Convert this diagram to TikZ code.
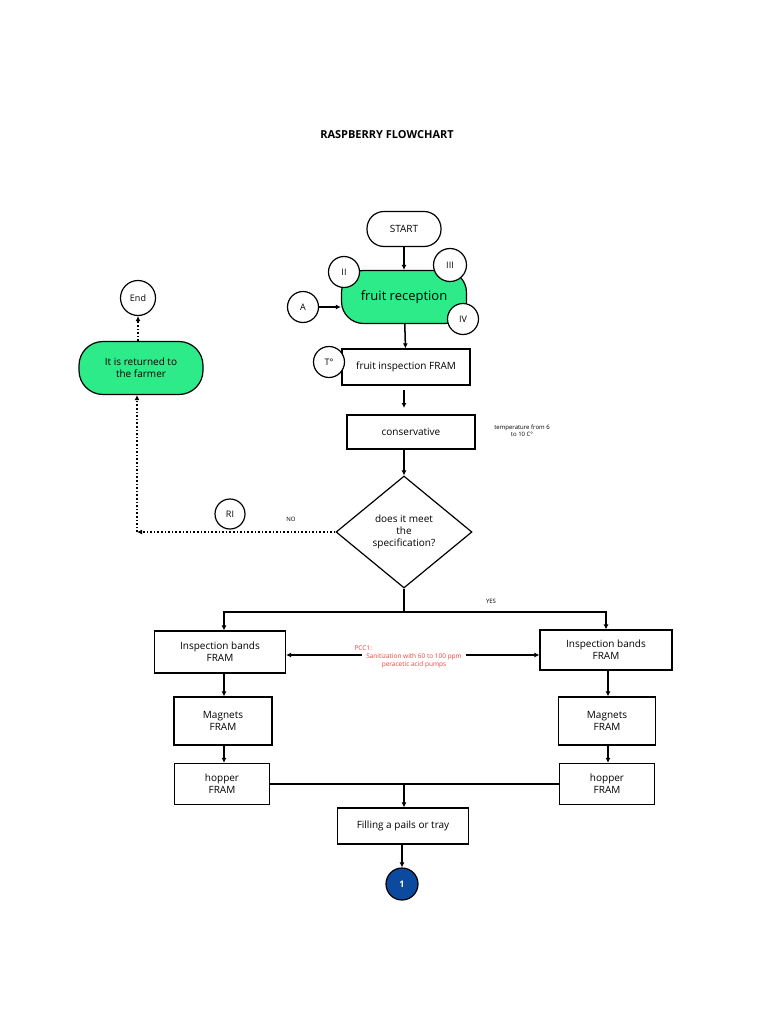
\documentclass[tikz,border=0pt]{standalone}
\usepackage{fontspec}
\setmainfont{Open Sans}
\usetikzlibrary{shapes.geometric,arrows.meta}
\definecolor{mint}{HTML}{2EEB8A}
\definecolor{navy}{HTML}{0B4A9E}
\definecolor{pcc}{HTML}{F04040}
\begin{document}
\begin{tikzpicture}[x=1pt,y=-1pt,
  line width=1.5pt,
  >={Latex[length=5pt,width=5pt]},
  box/.style={draw,line width=1.2pt,minimum width=#1,inner sep=2pt,align=center,font=\fontsize{10}{12}\selectfont},
  box/.default=96pt,
  pill/.style={draw,rounded corners=17pt,line width=1.2pt,align=center,font=\fontsize{10}{12}\selectfont},
  tag/.style={draw,circle,fill=white,line width=1.2pt,minimum size=31pt,inner sep=0pt,font=\fontsize{9}{10}\selectfont},
  dot/.style={dotted,line width=1.6pt}]
\useasboundingbox (0,0) rectangle (768,1024);
\node[font=\bfseries\fontsize{11}{13}\selectfont] (title) at (387,135) {RASPBERRY FLOWCHART};

\node[pill,minimum width=74pt,minimum height=35pt] (start) at (404,229) {START};
\node[pill,fill=mint,minimum width=125pt,minimum height=53pt,rounded corners=22pt,font=\fontsize{13}{15}\selectfont] (rec) at (404,297) {fruit reception};
\node[tag] (ii) at (344,272) {II};
\node[tag,minimum size=33pt] (iii) at (450,265) {III};
\node[tag] (iv) at (463,319) {IV};
\node[tag] (a) at (303,307) {A};
\node[box=128pt,minimum height=36pt] (insp) at (406,367) {fruit inspection FRAM};
\node[tag] (t) at (329,362) {T°};
\node[box=128pt,minimum height=34pt] (cons) at (411,432) {conservative};
\node[align=center,font=\fontsize{6}{7}\selectfont] (temp) at (522,431) {temperature from 6\\to 10 C°};
\node[draw,diamond,aspect=1.2,line width=1.2pt,minimum width=136pt,minimum height=112pt,inner sep=0pt,align=center,font=\fontsize{10}{12}\selectfont] (dec) at (404,532) {does it meet\\the\\specification?};
\node[tag,minimum size=30pt] (ri) at (230,514) {RI};
\node[font=\fontsize{6}{7}\selectfont] (no) at (291,519) {NO};
\node[font=\fontsize{6}{7}\selectfont] (yes) at (491,601) {YES};
\node[pill,fill=mint,minimum width=124pt,minimum height=53pt,rounded corners=24pt] (ret) at (141,368) {It is returned to\\the farmer};
\node[tag,minimum size=35pt] (end) at (138,298) {End};

\node[box=131pt,minimum height=42pt] (bl) at (220,652) {Inspection bands\\FRAM};
\node[box=132pt,minimum height=40pt] (br) at (606,650) {Inspection bands\\FRAM};
\node[align=center,text=pcc,font=\fontsize{6.5}{8}\selectfont] (pcc) at (414,657) {\makebox[0pt][r]{PCC1:\hspace{42pt}}\\Sanitization with 60 to 100 ppm\\peracetic acid pumps};
\node[box=98pt,minimum height=48pt] (ml) at (223,721) {Magnets\\FRAM};
\node[box=97pt,minimum height=48pt] (mr) at (607,721) {Magnets\\FRAM};
\node[box=95pt,minimum height=41pt] (hl) at (222,784) {hopper\\FRAM};
\node[box=95pt,minimum height=41pt] (hr) at (607,784) {hopper\\FRAM};
\node[box=131pt,minimum height=36pt] (fill) at (403,826) {Filling a pails or tray};
\node[circle,draw,fill=navy,line width=1.2pt,minimum size=32pt,inner sep=0pt,text=white,font=\bfseries\fontsize{9}{10}\selectfont] (one) at (402,884) {1};

\coordinate (split) at (404,612);
\coordinate (nl) at (137,532);
\coordinate (hm) at (404,784);

\draw[->] (start) -- (rec);
\draw[->] (a) -- (rec.west |- a);
\draw[->] (rec) -- (insp);
\draw[->] (404,390) -- (404,408);
\draw[->] (cons.south -| dec.north) -- (dec.north);
\draw[dot,->] (dec.west) -- (nl);
\draw[dot,->] (nl) -- (ret.south -| nl);
\draw[dot,->] (ret.north -| end) -- (end);
\draw (dec.south) -- (split);
\draw[->] (split) -| (bl.north -| 224,0);
\draw[->] (split) -| (br.north);
\draw[->] (pcc.west |- 0,655) -- (bl.east |- 0,655);
\draw[->] (pcc.east |- 0,655) -- (br.west |- 0,655);
\draw[->] (bl.south -| 224,0) -- (ml.north -| 224,0);
\draw[->] (br.south -| 608,0) -- (mr.north -| 608,0);
\draw[->] (ml.south -| 224,0) -- (hl.north -| 224,0);
\draw[->] (mr.south -| 608,0) -- (hr.north -| 608,0);
\draw (hl.east) -- (hr.west);
\draw[->] (hm) -- (fill.north -| hm);
\draw[->] (fill.south -| one) -- (one);
\end{tikzpicture}
\end{document}
